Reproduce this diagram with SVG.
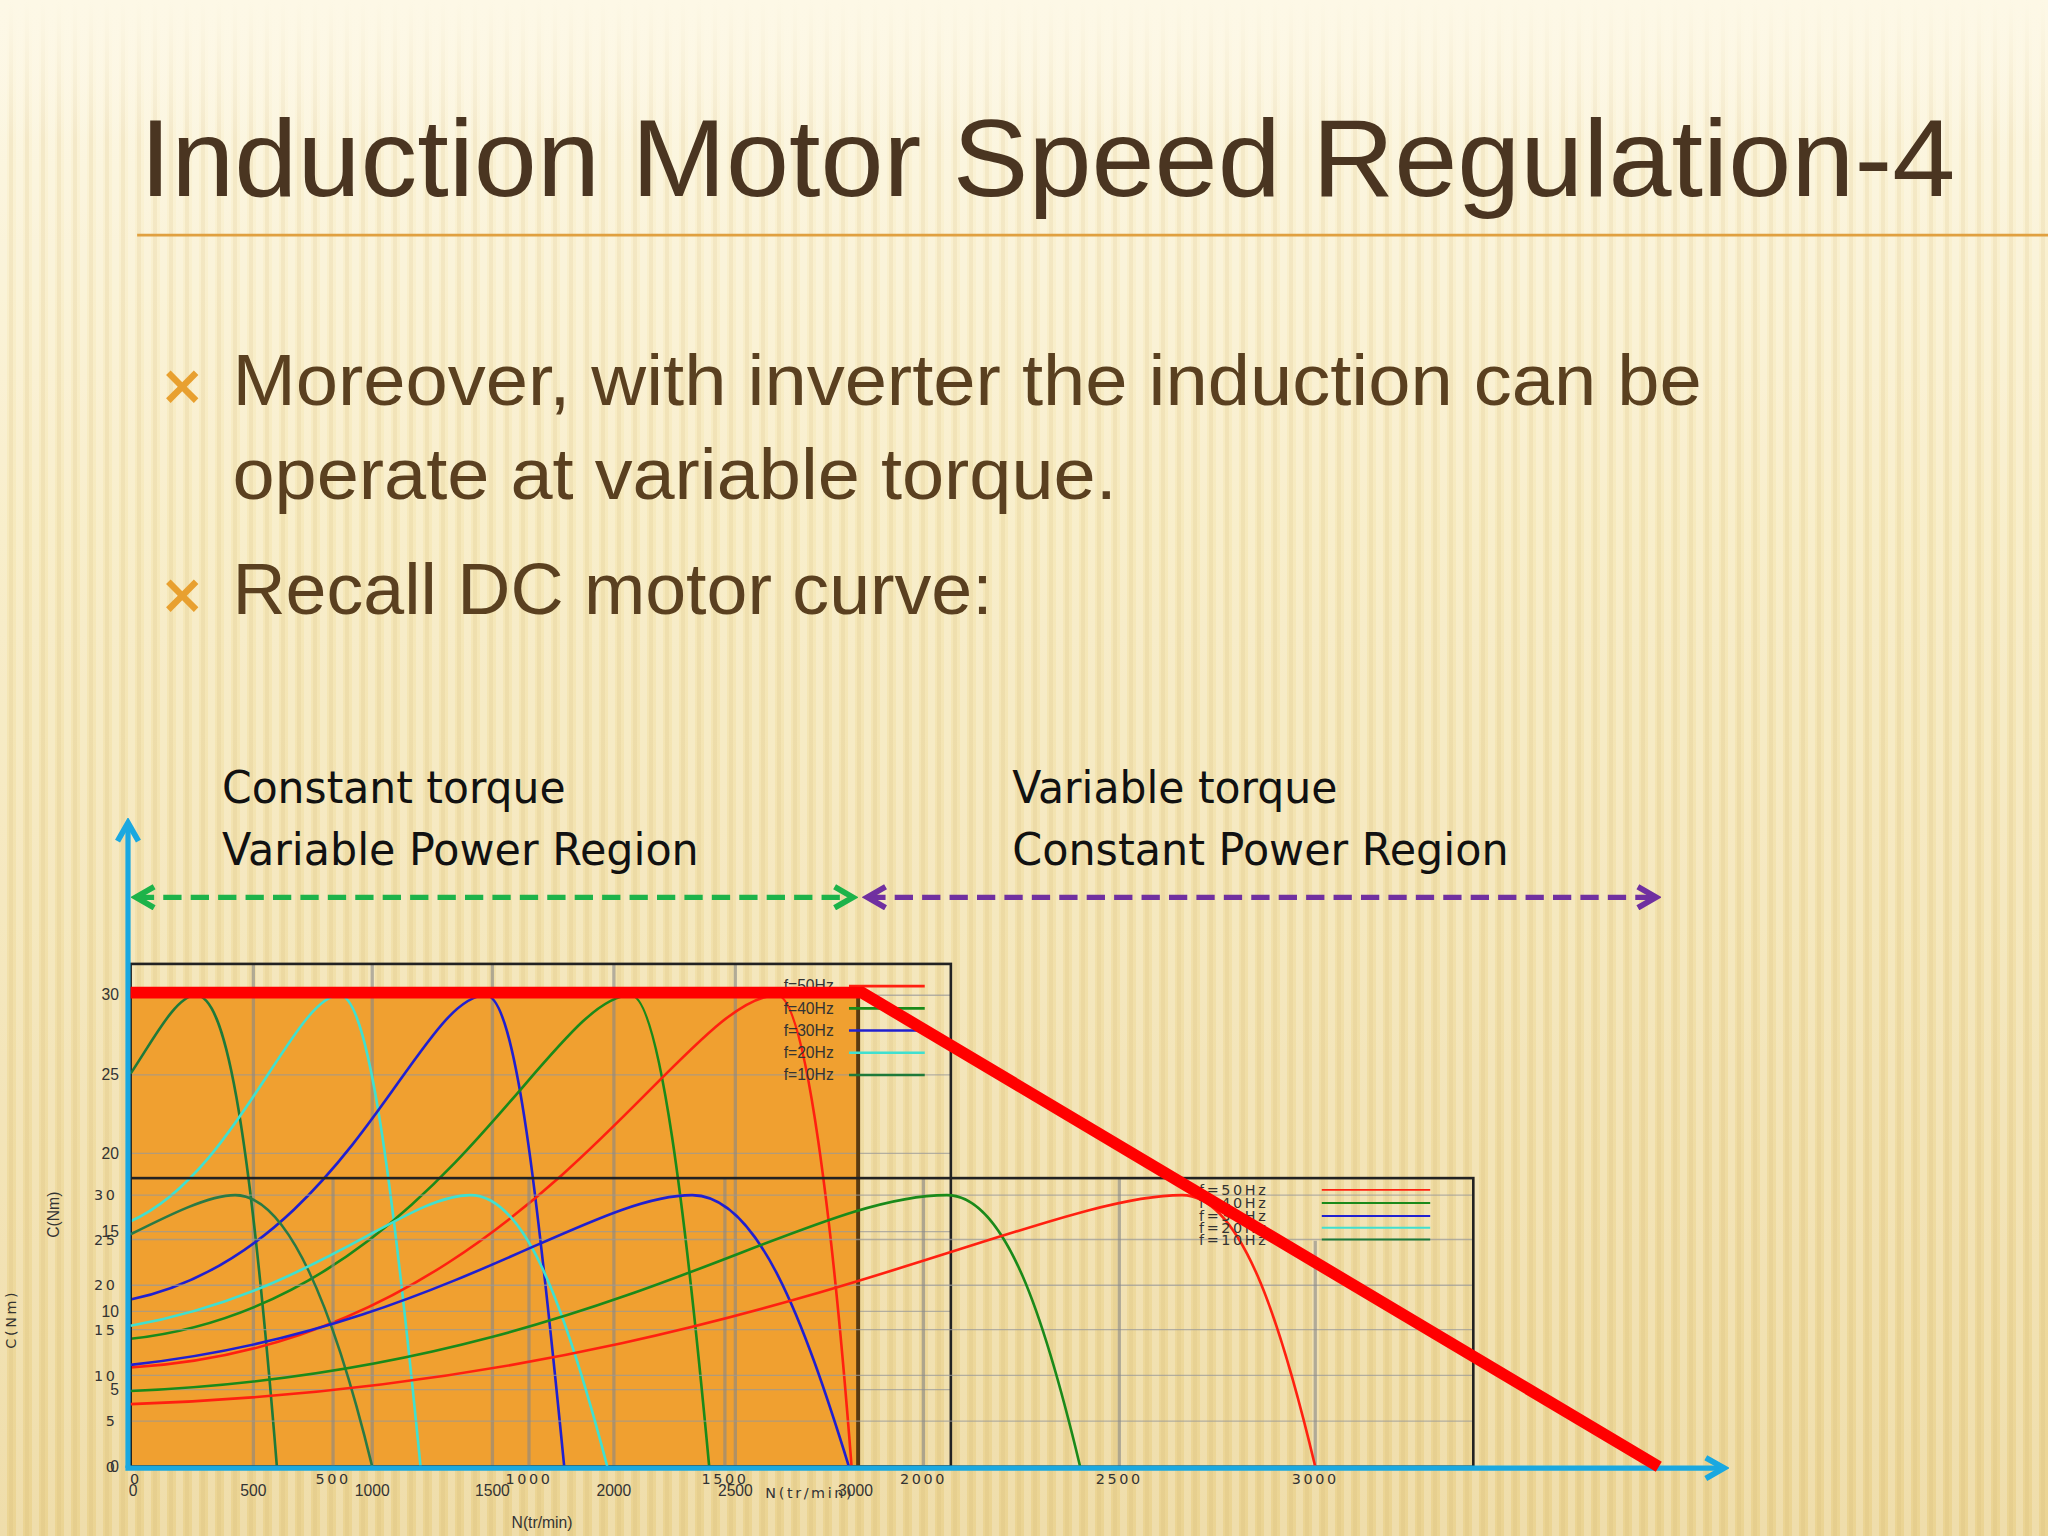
<svg xmlns="http://www.w3.org/2000/svg" width="2048" height="1536" viewBox="0 0 2048 1536">
<defs>
<linearGradient id="bg" x1="0" y1="0" x2="0" y2="1">
<stop offset="0" stop-color="#fcf6e0"/><stop offset="0.35" stop-color="#f6e9bc"/><stop offset="1" stop-color="#ebd493"/>
</linearGradient>
<pattern id="stripes" width="16" height="20" patternUnits="userSpaceOnUse">
<rect x="0" y="0" width="7" height="20" fill="#ffffff" opacity="0.22"/>
<rect x="9" y="0" width="4" height="20" fill="#c9a860" opacity="0.12"/>
</pattern>
<linearGradient id="fadeTop" x1="0" y1="0" x2="0" y2="1">
<stop offset="0" stop-color="#fdf8e6" stop-opacity="1"/><stop offset="1" stop-color="#fdf8e6" stop-opacity="0"/>
</linearGradient>
<marker id="gA" viewBox="0 0 10 10" refX="8" refY="5" markerWidth="5" markerHeight="5" orient="auto-start-reverse"><path d="M1,1 L8,5 L1,9" fill="none" stroke="#1db34a" stroke-width="2.2"/></marker>
<marker id="pA" viewBox="0 0 10 10" refX="8" refY="5" markerWidth="5" markerHeight="5" orient="auto-start-reverse"><path d="M1,1 L8,5 L1,9" fill="none" stroke="#7030a0" stroke-width="2.2"/></marker>
<marker id="bA" viewBox="0 0 10 10" refX="8" refY="5" markerWidth="5" markerHeight="5" orient="auto"><path d="M1,1 L8,5 L1,9" fill="none" stroke="#1aa8e0" stroke-width="2.2"/></marker>
<style>
.title{font-family:"Liberation Sans",Arial,sans-serif;fill:#4a3521}
.body{font-family:"Liberation Sans",Arial,sans-serif;fill:#5a4020;font-size:56px}
.lbl{font-family:"DejaVu Sans",sans-serif;fill:#111;font-size:34px}
.bul{font-family:"DejaVu Sans",sans-serif;fill:#e8a030;font-size:42px;font-weight:bold}
.tick{font-family:"Liberation Sans",Arial,sans-serif;font-size:12px;fill:#333}
.tickB{font-family:"DejaVu Sans",sans-serif;font-size:11px;fill:#333;letter-spacing:2px}
.grid{stroke:#999;stroke-width:1;opacity:0.7}
.gridV{stroke:#888;stroke-width:2.5;opacity:0.6}
.frame{fill:none;stroke:#222;stroke-width:2}
.c{fill:none;stroke-width:2}
</style>
</defs>
<rect width="2048" height="1536" fill="url(#bg)"/>
<rect width="2048" height="1536" fill="url(#stripes)"/>
<rect width="2048" height="140" fill="url(#fadeTop)"/>
<g transform="scale(1.306122)">
<g id="title">
<text class="title" x="107" y="150" font-size="84" textLength="1390" lengthAdjust="spacingAndGlyphs">Induction Motor Speed Regulation-4</text>
<line x1="105" y1="180" x2="1568" y2="180" stroke="#e0a040" stroke-width="2"/>
</g>
<g id="bullets">
<text class="bul" x="122" y="309">×</text>
<text class="body" x="178" y="310" textLength="1125" lengthAdjust="spacingAndGlyphs">Moreover, with inverter the induction can be</text>
<text class="body" x="178" y="382" textLength="677" lengthAdjust="spacingAndGlyphs">operate at variable torque.</text>
<text class="bul" x="122" y="469">×</text>
<text class="body" x="178" y="470" textLength="582" lengthAdjust="spacingAndGlyphs">Recall DC motor curve:</text>
</g>
<g id="region-labels">
<text class="lbl" x="170" y="615" textLength="263" lengthAdjust="spacingAndGlyphs">Constant torque</text>
<text class="lbl" x="170" y="662" textLength="365" lengthAdjust="spacingAndGlyphs">Variable Power Region</text>
<text class="lbl" x="775" y="615" textLength="249" lengthAdjust="spacingAndGlyphs">Variable torque</text>
<text class="lbl" x="775" y="662" textLength="380" lengthAdjust="spacingAndGlyphs">Constant Power Region</text>
</g>
<g id="chartA">
<rect x="100" y="758" width="557" height="365" fill="#f0a030"/>
<g class="grid">
<line x1="100" y1="823" x2="728" y2="823"/><line x1="100" y1="883" x2="728" y2="883"/><line x1="100" y1="943" x2="728" y2="943"/><line x1="100" y1="1004" x2="728" y2="1004"/><line x1="100" y1="1064" x2="728" y2="1064"/><line x1="100" y1="762" x2="728" y2="762"/>
</g>
<g class="gridV">
<line x1="194" y1="738" x2="194" y2="1123"/><line x1="285" y1="738" x2="285" y2="1123"/><line x1="377" y1="738" x2="377" y2="1123"/><line x1="470" y1="738" x2="470" y2="1123"/><line x1="563" y1="738" x2="563" y2="1123"/>
</g>
<rect class="frame" x="100" y="738" width="628" height="385"/>
<line x1="657" y1="758" x2="657" y2="1123" stroke="#5a3a10" stroke-width="3"/>
<g class="tick" text-anchor="end">
<text x="91" y="766">30</text><text x="91" y="827">25</text><text x="91" y="887">20</text><text x="91" y="947">15</text><text x="91" y="1008">10</text><text x="91" y="1068">5</text><text x="91" y="1127">0</text>
</g>
<g class="tick" text-anchor="middle">
<text x="102" y="1145">0</text><text x="194" y="1145">500</text><text x="285" y="1145">1000</text><text x="377" y="1145">1500</text><text x="470" y="1145">2000</text><text x="563" y="1145">2500</text><text x="655" y="1145">3000</text>
<text x="415" y="1170">N(tr/min)</text>
<text x="0" y="0" transform="translate(45,930) rotate(-90)">C(Nm)</text>
</g>
<path class="c" stroke="#1e7a3a" stroke-width="2.5" d="M100,822 C118,795 135,762 150,762 C172,762 190,850 212,1123"/>
<path class="c" stroke="#40e0d0" stroke-width="3" d="M100,935 C180,900 225,762 260,762 C282,762 300,900 322,1123"/>
<path class="c" stroke="#2020d0" d="M100,995 C265,960 320,762 372,762 C395,762 412,920 432,1123"/>
<path class="c" stroke="#1a8a1a" d="M100,1025 C330,1000 420,762 483,762 C505,762 525,930 543,1123"/>
<path class="c" stroke="#ff2010" d="M100,1047 C400,1030 520,762 595,762 C617,762 638,940 652,1123"/>
<g class="tick" font-size="11">
<text x="600" y="759">f=50Hz</text><text x="600" y="776">f=40Hz</text><text x="600" y="793">f=30Hz</text><text x="600" y="810">f=20Hz</text><text x="600" y="827">f=10Hz</text>
</g>
<line x1="650" y1="755" x2="708" y2="755" stroke="#ff2010" stroke-width="2"/>
<line x1="650" y1="772" x2="708" y2="772" stroke="#1a8a1a" stroke-width="2"/>
<line x1="650" y1="789" x2="708" y2="789" stroke="#2020d0" stroke-width="2"/>
<line x1="650" y1="806" x2="708" y2="806" stroke="#40e0d0" stroke-width="2"/>
<line x1="650" y1="823" x2="708" y2="823" stroke="#1e7a3a" stroke-width="2"/>
</g>
<g id="chartB">
<g class="grid">
<line x1="100" y1="915" x2="1128" y2="915"/><line x1="100" y1="949" x2="1128" y2="949"/><line x1="100" y1="984" x2="1128" y2="984"/><line x1="100" y1="1018" x2="1128" y2="1018"/><line x1="100" y1="1053" x2="1128" y2="1053"/><line x1="100" y1="1088" x2="1128" y2="1088"/>
</g>
<g class="gridV">
<line x1="255" y1="902" x2="255" y2="1123"/><line x1="405" y1="902" x2="405" y2="1123"/><line x1="555" y1="902" x2="555" y2="1123"/><line x1="707" y1="902" x2="707" y2="1123"/><line x1="857" y1="902" x2="857" y2="1123"/><line x1="1007" y1="950" x2="1007" y2="1123"/>
</g>
<rect class="frame" x="100" y="902" width="1028" height="221"/>
<g class="tickB" text-anchor="end">
<text x="90" y="919">30</text><text x="90" y="953">25</text><text x="90" y="988">20</text><text x="90" y="1022">15</text><text x="90" y="1057">10</text><text x="90" y="1092">5</text><text x="90" y="1127">0</text>
</g>
<g class="tickB" text-anchor="middle">
<text x="104" y="1136">0</text><text x="255" y="1136">500</text><text x="405" y="1136">1000</text><text x="555" y="1136">1500</text><text x="707" y="1136">2000</text><text x="857" y="1136">2500</text><text x="1007" y="1136">3000</text>
<text x="620" y="1147">N(tr/min)</text>
<text x="0" y="0" transform="translate(12,1010) rotate(-90)">C(Nm)</text>
</g>
<path class="c" stroke="#2a7a45" stroke-width="3.5" d="M100,945 C130,930 160,915 180,915 C220,915 255,1000 285,1123"/>
<path class="c" stroke="#40e0d0" stroke-width="3" d="M100,1015 C240,990 310,915 360,915 C400,915 430,990 465,1123"/>
<path class="c" stroke="#2020d0" stroke-width="2.5" d="M100,1045 C330,1020 450,915 530,915 C580,915 615,1010 650,1123"/>
<path class="c" stroke="#1a8a1a" stroke-width="2.5" d="M100,1065 C450,1050 610,915 725,915 C770,915 800,1010 827,1123"/>
<path class="c" stroke="#ff2010" d="M100,1075 C550,1060 790,915 905,915 C950,915 980,1010 1007,1123"/>
<g class="tickB">
<text x="918" y="915">f=50Hz</text><text x="918" y="925">f=40Hz</text><text x="918" y="935">f=30Hz</text><text x="918" y="944">f=20Hz</text><text x="918" y="953">f=10Hz</text>
</g>
<line x1="1012" y1="911" x2="1095" y2="911" stroke="#ff2010" stroke-width="1.5"/>
<line x1="1012" y1="921" x2="1095" y2="921" stroke="#1a8a1a" stroke-width="1.5"/>
<line x1="1012" y1="931" x2="1095" y2="931" stroke="#2020d0" stroke-width="1.5"/>
<line x1="1012" y1="940" x2="1095" y2="940" stroke="#40e0d0" stroke-width="1.5"/>
<line x1="1012" y1="949" x2="1095" y2="949" stroke="#1e7a3a" stroke-width="1.5"/>
</g>
<g id="connectors">
<line x1="98" y1="1124" x2="98" y2="630" stroke="#1aa8e0" stroke-width="4" marker-end="url(#bA)"/>
<line x1="96" y1="1124" x2="1320" y2="1124" stroke="#1aa8e0" stroke-width="4" marker-end="url(#bA)"/>
<line x1="104" y1="687" x2="653" y2="687" stroke="#1db34a" stroke-width="4" stroke-dasharray="14,7" marker-start="url(#gA)" marker-end="url(#gA)"/>
<line x1="664" y1="687" x2="1268" y2="687" stroke="#7030a0" stroke-width="4" stroke-dasharray="14,7" marker-start="url(#pA)" marker-end="url(#pA)"/>
<polyline points="100,760 660,760 1270,1123" fill="none" stroke="#ff0000" stroke-width="9"/>
</g>
</g>
</svg>
